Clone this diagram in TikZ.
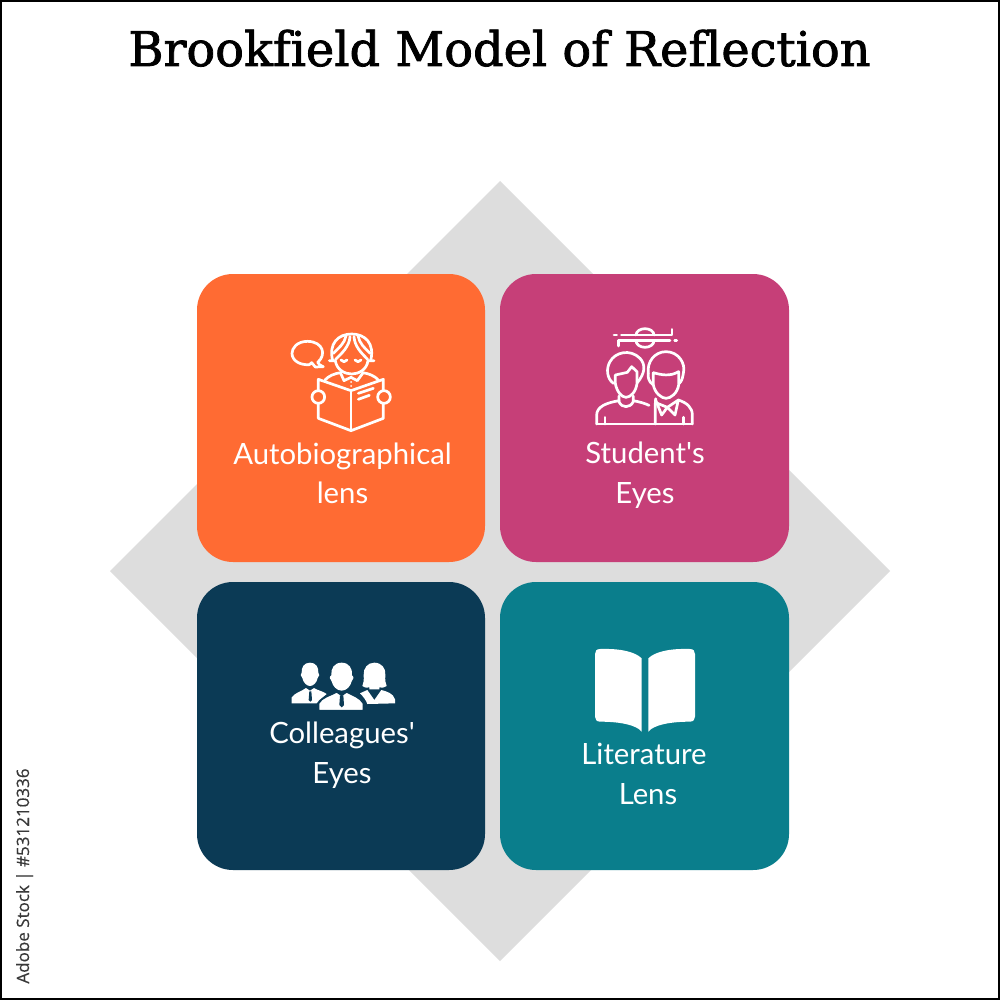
\documentclass[tikz,border=0pt]{standalone}
\usepackage{fontspec}
\setmainfont{Lato}
\newfontfamily\titlefont[FakeBold=1.6,RawFeature=-liga]{DejaVu Serif}
\newfontfamily\stockfont[FakeBold=0.4]{Open Sans}
\definecolor{orangeb}{HTML}{FF6B33}
\definecolor{pinkb}{HTML}{C63F78}
\definecolor{navyb}{HTML}{0B3A55}
\definecolor{tealb}{HTML}{0A7E8C}
\definecolor{diam}{HTML}{DDDDDD}
\tikzset{
  card/.style={rounded corners=36pt,minimum width=288pt,minimum height=288pt,inner sep=0pt,outer sep=0pt,anchor=north west},
  lab/.style={text=white,font=\fontsize{29.3}{29.3}\selectfont,anchor=base,inner sep=0pt},
  ico/.style={draw=white,line width=2.7pt,line cap=round,line join=round},
  zoomed/.style={x=0.33333pt,y=-0.33333pt}
}
\begin{document}
\begin{tikzpicture}[x=1pt,y=-1pt]
\useasboundingbox (0,0) rectangle (1000,1000);
\fill[white] (0,0) rectangle (1000,1000);
\fill[diam] (500,181) -- (890,571) -- (500,961) -- (110,571) -- cycle;
\node[card,fill=orangeb] (auto) at (197,274) {};
\node[card,fill=pinkb,minimum width=289pt] (stud) at (500,274) {};
\node[card,fill=navyb] (coll) at (197,582) {};
\node[card,fill=tealb,minimum width=289pt] (lit) at (500,582) {};
\node[anchor=base,inner sep=0pt] (title) at (499.5,66) {\resizebox{742pt}{!}{\titlefont\fontsize{50}{50}\selectfont Brookfield Model of Reflection}};
\node[lab] (t1a) at (342.5,464) {Autobiographical};
\node[lab] (t1b) at (342.5,503) {lens};
\node[lab] (t2a) at (645,463) {Student\textquotesingle s};
\node[lab] (t2b) at (645,503) {Eyes};
\node[lab] (t3a) at (342,743) {Colleagues\textquotesingle};
\node[lab] (t3b) at (342,783) {Eyes};
\node[lab] (t4a) at (644,764) {Literature};
\node[lab] (t4b) at (648,804) {Lens};
\node[rotate=90,anchor=base,inner sep=0pt,text=black!78,font=\stockfont\fontsize{17}{17}\selectfont] (stock) at (29,876) {Adobe Stock | \#531210336};
% icon 1: reader
\begin{scope}[shift={(270,320)},zoomed,ico]
 \draw (143,127) .. controls (170,105) and (160,65) .. (113,64) .. controls (80,64) and (66,85) .. (66,100) .. controls (66,122) and (90,136) .. (118,134) -- (125,128) -- (136,141) -- (160,140) .. controls (150,136) and (146,132) .. (143,127);
 \draw (188,122) .. controls (175,70) and (205,42) .. (245,42) .. controls (285,42) and (315,70) .. (302,122);
 \draw (178,122) -- (196,122) .. controls (200,150) and (225,162) .. (245,162) .. controls (265,162) and (290,150) .. (294,122) -- (312,122);
 \draw (240,50) .. controls (238,80) and (215,100) .. (197,118);
 \draw (228,48) .. controls (224,70) and (205,85) .. (190,100);
 \draw (252,50) .. controls (254,80) and (275,100) .. (293,118);
 \draw (264,48) .. controls (268,70) and (285,85) .. (300,100);
 \draw (213,120) .. controls (218,127) and (226,127) .. (231,120);
 \draw (255,120) .. controls (260,127) and (268,127) .. (273,120);
 \draw (165,180) .. controls (175,168) and (195,160) .. (212,158);
 \draw (278,158) .. controls (295,160) and (315,168) .. (325,180);
 \draw (212,160) -- (222,182) -- (243,172) -- (262,182) -- (278,160);
 \fill[white] (243,186) circle (3) (243,198) circle (3);
 \draw (145,178) -- (243,212) -- (340,178) -- (340,295) -- (243,332) -- (145,295) -- cycle;
 \draw (243,212) -- (243,332);
 \draw (265,220) -- (310,205);
 \draw (265,238) -- (298,226);
 \draw[fill=orangeb] (145,231) circle (19);
 \draw[fill=orangeb] (342,231) circle (19);
\end{scope}
% icon 2: students
\begin{scope}[shift={(580,320)},zoomed,ico]
 \draw (102,45) -- (110,45);
 \draw (124,45) -- (276,45) -- (276,28);
 \draw (116,78) -- (116,62) -- (270,62);
 \draw (284,62) -- (290,62);
 \draw (168,45) arc[start angle=180,end angle=0,x radius=27,y radius=-19];
 \draw (168,62) arc[start angle=180,end angle=360,x radius=27,y radius=-20];
 \draw (100,190) .. controls (80,175) and (78,145) .. (90,125) .. controls (105,97) and (150,85) .. (180,115) .. controls (198,135) and (195,160) .. (172,188);
 \draw (106,165) -- (106,190) .. controls (110,215) and (125,232) .. (138,232) .. controls (152,232) and (168,215) .. (171,190) -- (171,155) -- (155,140) -- (142,157) -- (106,165);
 \draw (117,228) -- (117,245) .. controls (125,265) and (150,265) .. (160,245) -- (160,228);
 \draw (50,312) -- (50,285) .. controls (50,260) and (80,248) .. (117,242);
 \draw (160,242) .. controls (180,246) and (195,250) .. (207,256);
 \draw (75,292) -- (75,312);
 \draw (205,160) .. controls (200,125) and (225,95) .. (258,95) .. controls (295,95) and (318,130) .. (310,160) .. controls (308,175) and (304,185) .. (298,190);
 \draw (220,195) .. controls (205,185) and (203,170) .. (205,160);
 \draw (220,158) -- (220,195) .. controls (225,220) and (245,235) .. (258,235) .. controls (272,235) and (292,220) .. (296,195) -- (296,155) .. controls (270,170) and (245,165) .. (220,158);
 \draw (226,312) -- (226,250) -- (227,236);
 \draw (227,240) -- (245,285) -- (262,262) -- (285,285) -- (295,240);
 \draw (227,248) -- (262,262) -- (295,240);
 \draw (295,240) .. controls (320,248) and (337,262) .. (337,285) -- (337,312);
 \draw (310,292) -- (310,312);
 \draw (50,312) -- (337,312);
\end{scope}
% icon 3: colleagues
\begin{scope}[shift={(280,650)},zoomed]
 \fill[white] (90,38) .. controls (108,38) and (116,52) .. (115,68) .. controls (119,70) and (119,80) .. (113,84) .. controls (110,98) and (100,108) .. (90,108) .. controls (80,108) and (70,98) .. (67,84) .. controls (61,80) and (61,70) .. (65,68) .. controls (64,52) and (72,38) .. (90,38) -- cycle;
 \fill[white] (35,160) -- (35,142) .. controls (45,128) and (65,124) .. (78,114) -- (90,122) -- (102,114) .. controls (115,122) and (130,124) .. (140,132) -- (118,150) -- (110,160) -- cycle;
 \fill[white] (283,38) .. controls (305,38) and (318,55) .. (316,75) .. controls (315,90) and (316,100) .. (320,108) .. controls (310,114) and (303,114) .. (298,112) -- (298,118) -- (268,118) -- (268,112) .. controls (263,114) and (256,114) .. (247,108) .. controls (251,100) and (252,90) .. (251,75) .. controls (250,55) and (262,38) .. (283,38) -- cycle;
 \fill[white] (240,130) .. controls (250,125) and (258,122) .. (262,120) -- (283,150) -- (304,120) .. controls (320,124) and (340,130) .. (345,148) -- (345,160) -- (262,162) .. controls (258,150) and (250,140) .. (240,130) -- cycle;
 \fill[white] (185,38) .. controls (207,38) and (218,55) .. (216,76) .. controls (222,78) and (222,90) .. (215,94) .. controls (212,108) and (200,122) .. (185,122) .. controls (170,122) and (158,108) .. (155,94) .. controls (148,90) and (148,78) .. (154,76) .. controls (152,55) and (163,38) .. (185,38) -- cycle;
 \draw[navyb,line width=1.4pt,fill=white,line join=round] (116,182) -- (116,160) .. controls (125,142) and (150,137) .. (170,126) -- (185,136) -- (200,126) .. controls (220,137) and (240,142) .. (250,160) -- (250,182) -- cycle;
 \fill[navyb] (180,136) -- (190,136) -- (192,165) -- (185,172) -- (178,165) -- cycle;
 \fill[navyb] (88,124) -- (94,124) -- (96,150) -- (91,155) -- (86,150) -- cycle;
\end{scope}
% icon 4: book
\begin{scope}[shift={(580,640)},zoomed]
 \fill[white] (60,27) .. controls (120,25) and (165,35) .. (185,55) -- (185,275) .. controls (170,255) and (120,245) .. (60,245) .. controls (50,245) and (45,238) .. (45,230) -- (45,42) .. controls (45,33) and (50,27) .. (60,27) -- cycle;
 \fill[white] (330,27) .. controls (270,25) and (225,35) .. (205,55) -- (205,275) .. controls (220,255) and (270,245) .. (330,245) .. controls (340,245) and (345,238) .. (345,230) -- (345,42) .. controls (345,33) and (340,27) .. (330,27) -- cycle;
\end{scope}
\draw[black,line width=2pt] (1,1) rectangle (999,999);
\end{tikzpicture}
\end{document}
